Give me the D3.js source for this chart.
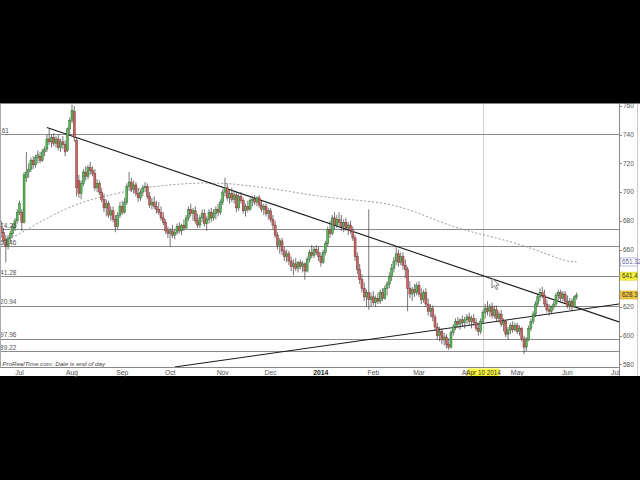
<!DOCTYPE html>
<html><head><meta charset="utf-8">
<script src="https://cdn.jsdelivr.net/npm/d3@7"></script>
<style>html,body{margin:0;padding:0;background:#000;}svg{display:block}</style>
</head><body>
<svg id="c" width="640" height="480"></svg>
<script>
// ---- DATA ----
const firstDay = "2013-06-19"; // first daily candle (weekdays only)
const opens = [676,672,667,662,668,671,675,680,686,686,679,710,714,716,722,719,724,725,722,728,730,737,735,738,734,737,731,735,733,729,744,750,756,736,708,699,706,714,711,717,715,713,703,706,700,695,689,692,684,687,681,676,684,690,686,693,704,707,702,705,699,696,700,703,704,697,691,693,690,688,686,682,679,673,671,673,670,672,676,673,677,675,682,688,685,687,680,677,682,685,678,681,686,682,685,688,686,693,700,703,696,699,695,698,689,697,694,687,690,688,694,695,693,696,691,688,690,685,687,681,677,670,663,666,659,655,657,652,648,650,647,651,648,650,645,653,658,656,660,658,655,651,658,664,674,671,682,677,681,679,676,679,675,677,673,668,655,646,639,633,627,630,625,627,623,626,624,630,626,633,636,641,647,652,657,651,655,649,646,633,629,632,630,635,629,625,630,622,617,619,613,606,600,603,597,599,594,592,602,606,610,608,611,609,611,613,610,612,609,605,603,610,616,619,617,620,614,618,612,615,608,610,601,604,607,604,607,603,605,598,592,597,605,610,615,622,627,630,628,622,618,617,620,622,628,630,626,629,624,621,624,620,627];
const highs = [680,675,670,670,673,678,682,688,694,688,714,728,720,724,725,726,729,728,730,732,740,744,740,741,739,740,737,739,736,745,752,761,760,738,712,708,716,718,719,721,718,716,709,708,703,699,695,694,690,690,684,686,693,694,696,706,714,710,708,707,703,702,705,707,706,700,696,697,694,693,690,686,681,676,675,677,674,678,679,678,681,684,690,692,689,690,685,684,688,688,683,688,689,688,690,692,695,702,710,706,702,703,701,700,699,700,696,692,694,696,697,698,697,698,694,692,692,689,689,684,680,672,668,668,662,660,659,655,653,654,652,653,652,651,655,660,663,662,663,662,658,660,666,676,680,684,686,684,686,684,681,682,679,680,676,670,658,650,643,637,632,688,630,631,628,630,632,633,635,638,644,650,655,662,660,658,658,653,648,638,634,636,637,638,633,632,633,626,622,621,615,609,606,605,602,601,598,604,608,612,613,612,614,613,615,616,614,615,612,609,612,618,622,624,622,623,621,621,617,618,612,611,606,609,610,609,609,607,606,600,599,607,612,617,624,629,633,634,632,625,622,621,624,630,632,632,631,631,628,626,626,628,630];
const lows = [668,664,651,660,665,669,673,678,684,673,678,707,710,714,716,717,720,720,721,725,728,733,731,732,731,729,728,730,725,728,740,748,735,697,696,695,704,708,709,712,711,701,700,698,693,686,683,682,680,679,672,674,682,684,685,691,701,700,699,697,693,694,697,700,695,689,688,688,685,684,680,677,671,668,662,668,667,670,671,670,673,674,680,683,680,678,675,675,679,676,673,678,679,680,681,683,684,691,697,694,692,693,692,686,687,692,685,683,686,687,690,691,690,689,686,684,683,681,679,674,668,660,657,656,652,651,649,645,642,645,644,646,644,639,644,651,654,654,656,652,648,650,656,662,668,670,674,675,676,673,672,673,670,671,666,652,643,636,630,624,620,618,620,621,620,622,622,624,625,628,633,638,644,649,648,649,646,640,617,626,624,627,628,627,622,623,620,614,613,610,603,597,596,594,593,591,590,591,600,604,605,604,606,605,608,607,605,607,603,600,601,608,612,614,613,612,612,610,609,606,603,599,597,601,602,603,601,600,596,587,589,596,603,608,613,620,624,626,620,616,614,615,618,620,625,624,624,622,619,618,617,619,625];
const closes = [672,666,662,668,671,676,680,686,692,679,712,714,716,722,719,724,726,722,728,730,737,735,738,734,737,731,735,733,728,744,750,757,738,703,699,706,714,711,717,715,713,703,706,700,695,689,692,684,687,681,676,684,690,686,693,704,707,702,705,699,696,700,703,704,697,691,693,690,688,686,682,679,673,671,673,670,672,676,673,677,675,682,688,685,687,680,677,682,685,678,681,686,682,685,688,686,693,700,703,696,699,695,698,689,697,694,687,690,688,694,695,693,696,691,688,690,685,687,681,677,670,663,666,659,655,657,652,648,650,647,651,648,650,645,653,658,656,660,658,655,651,658,664,674,671,682,677,681,679,676,679,675,677,673,668,655,646,639,633,627,630,625,627,623,626,624,630,626,633,636,641,647,652,657,651,655,649,646,633,629,632,630,635,629,625,630,622,617,619,613,606,600,603,597,599,594,592,602,606,610,608,611,609,611,613,610,612,609,605,603,610,616,619,617,620,614,618,612,615,608,610,601,604,607,604,607,603,605,598,592,597,605,610,615,622,627,630,628,622,618,617,620,622,628,630,626,629,624,621,624,620,627,628.3];
// 200-day moving average, read at sample dates
const maDates = ["2013-06-24","2013-07-01","2013-07-15","2013-07-29","2013-08-12","2013-08-26","2013-09-09","2013-09-23","2013-10-07","2013-10-21","2013-11-04","2013-11-18","2013-12-02","2013-12-16","2013-12-30","2014-01-13","2014-01-27","2014-02-10","2014-02-24","2014-03-10","2014-03-24","2014-04-07","2014-04-21","2014-05-05","2014-05-19","2014-06-02","2014-06-06"];
const maVals = [667,671,680,688,694,698,701.5,704,705.5,706.3,706,704.5,702.5,700,697.5,695.5,694,692,688,682,676,671.5,667.5,663,657.5,652,651.3];
const levels = [740.61, 674.25, 662.46, 641.28, 620.94, 597.96, 589.22];
const levelLabels = ["740.61","674.25","662.46","641.28","620.94","597.96","589.22"];
const yTicks = [760,740,720,700,680,660,620,600,580];
const yTickMarks = [760,740,720,700,680,660,640,620,600,580];
const monthNames = ["Jul","Aug","Sep","Oct","Nov","Dec","2014","Feb","Mar","Apr","May","Jun","Jul"];
const monthDates = ["2013-07-01","2013-08-01","2013-09-02","2013-10-01","2013-11-01","2013-12-02","2014-01-01","2014-02-03","2014-03-03","2014-04-01","2014-05-01","2014-06-02","2014-07-01"];
const downTrend = [["2013-07-17",745.0],["2014-06-06",619.6]];
const upTrend = [["2013-10-03",578.1],["2014-06-06",617.8]];
const crossDate = "2014-04-10", crossLabel = "Apr 10 2014";
const maLast = "651.32", levelTag = "641.4", lastTag = "628.3";

// ---- CHART ----
const svg = d3.select("#c");
svg.append("rect").attr("width",640).attr("height",480).attr("fill","#000");
svg.append("rect").attr("x",0).attr("y",103.5).attr("width",640).attr("height",272.5).attr("fill","#fff");
const P = {l:0, r:619, t:104, b:367.5};
const font = "'Liberation Sans', Arial, sans-serif";

const parse = d3.timeParse("%Y-%m-%d");
const dates = [];
for (let d = parse(firstDay); dates.length < closes.length + 40; d = d3.timeDay.offset(d,1)) {
  if (d.getDay() !== 0 && d.getDay() !== 6) dates.push(d);
}
const idxOf = s => { const t = +parse(s); return dates.findIndex(d => +d >= t); };

const x = d3.scaleLinear().domain([-0.54, 270.6]).range([P.l, P.r]);
const y = d3.scaleLinear().domain([580, 760]).range([364.3, 106.0]);

svg.append("clipPath").attr("id","pc").append("rect")
  .attr("x",P.l).attr("y",P.t).attr("width",P.r-P.l).attr("height",P.b-P.t);
const g = svg.append("g").attr("clip-path","url(#pc)");

// crosshair
const cx = Math.round(x(idxOf(crossDate)))+0.5;
g.append("line").attr("x1",cx).attr("x2",cx).attr("y1",P.t).attr("y2",P.b).attr("stroke","#d0d0d0");

// horizontal levels
g.selectAll(".lv").data(levels).enter().append("line")
  .attr("x1",P.l).attr("x2",P.r).attr("y1",d=>Math.round(y(d))+0.5).attr("y2",d=>Math.round(y(d))+0.5)
  .attr("stroke","#8a8a8a").attr("stroke-width",1);

// level labels on left (partly cut by the left edge, as in the source)
svg.selectAll(".ll").data(levels).enter().append("text")
  .attr("x",(d,i)=> i===0 ? -11 : -3.5).attr("y",d=>y(d)-1.2)
  .attr("font-family",font).attr("font-size",6.5).attr("fill","#555")
  .text((d,i)=>levelLabels[i]);

// moving average
const maLine = d3.line().x(d=>x(idxOf(d[0]))).y(d=>y(d[1])).curve(d3.curveMonotoneX);
g.append("path").datum(maDates.map((d,i)=>[d,maVals[i]])).attr("d",maLine)
  .attr("fill","none").attr("stroke","#9a9a9a").attr("stroke-width",1).attr("stroke-dasharray","2,2");

// trend lines (extended to the right edge)
function trend(pts){
  const i0 = idxOf(pts[0][0]), i1 = idxOf(pts[1][0]);
  const s = (pts[1][1]-pts[0][1])/(i1-i0);
  const iEnd = x.domain()[1];
  g.append("line").attr("x1",x(i0)).attr("y1",y(pts[0][1]))
    .attr("x2",x(iEnd)).attr("y2",y(pts[0][1]+s*(iEnd-i0)))
    .attr("stroke","#1a1a1a").attr("stroke-width",1.1);
}
trend(downTrend);
trend(upTrend);

// candles
const cw = 2.0;
const cd = g.append("g");
closes.forEach((c,i)=>{
  const o = opens[i], up = c >= o;
  const xc = x(i);
  cd.append("line").attr("x1",xc).attr("x2",xc).attr("y1",y(highs[i])).attr("y2",y(lows[i]))
    .attr("stroke","#3a3a3a").attr("stroke-width",0.7);
  cd.append("rect").attr("x",xc-cw/2).attr("width",cw)
    .attr("y",y(Math.max(o,c))).attr("height",Math.max(0.8,Math.abs(y(o)-y(c))))
    .attr("fill",up?"#5cb85c":"#c96464").attr("stroke",up?"#2e6b2e":"#7d3434").attr("stroke-width",0.5);
});

// cursor arrow
svg.append("path").attr("transform","translate(492,278)")
  .attr("d","M0,0 L0,10 L2.4,7.6 L4.3,11.5 L5.9,10.8 L4,7 L7.2,7 Z")
  .attr("fill","#fff").attr("stroke","#333").attr("stroke-width",0.6);

// frame
svg.append("line").attr("x1",P.l).attr("x2",P.r).attr("y1",P.b).attr("y2",P.b).attr("stroke","#888");
svg.append("line").attr("x1",P.r+0.5).attr("x2",P.r+0.5).attr("y1",P.t).attr("y2",376).attr("stroke","#888");
svg.append("line").attr("x1",0.5).attr("x2",0.5).attr("y1",P.t).attr("y2",P.b).attr("stroke","#aaa");
svg.append("line").attr("x1",637.5).attr("x2",637.5).attr("y1",P.t).attr("y2",376).attr("stroke","#ccc");

// right axis
const ya = svg.append("g");
yTickMarks.forEach(v=>{
  ya.append("line").attr("x1",P.r).attr("x2",P.r+3).attr("y1",Math.round(y(v))+0.5).attr("y2",Math.round(y(v))+0.5).attr("stroke","#888");
});
yTicks.forEach(v=>{
  ya.append("text").attr("x",P.r+4).attr("y",y(v)+2.3).attr("font-family",font).attr("font-size",6.5).attr("fill","#555").text(v);
});
function tag(val, text, fill, stroke, color){
  const yy = y(val);
  svg.append("rect").attr("x",620.5).attr("y",yy-4).attr("width",17).attr("height",8)
    .attr("fill",fill).attr("stroke",stroke).attr("stroke-width",0.6);
  svg.append("text").attr("x",622).attr("y",yy+2.3).attr("font-family",font).attr("font-size",6.3).attr("fill",color).text(text);
}
tag(maVals[maVals.length-1], maLast, "#fff", "#8a8fd0", "#5a5f9a");
tag(+levelTag, levelTag, "#f5f03c", "#d8d020", "#333");
tag(closes[closes.length-1], lastTag, "#f0c63c", "#d0a020", "#333");

// x axis labels
monthNames.forEach((m,i)=>{
  svg.append("text").attr("x",x(idxOf(monthDates[i]))).attr("y",375.2).attr("text-anchor","middle")
    .attr("font-family",font).attr("font-size",6.8).attr("font-weight",m==="2014"?"bold":"normal")
    .attr("fill",m==="2014"?"#222":"#555").text(m);
});
// crosshair date tag
svg.append("rect").attr("x",cx-16).attr("y",368.5).attr("width",32).attr("height",7.5).attr("fill","#f8f53a");
svg.append("text").attr("x",cx).attr("y",375).attr("text-anchor","middle")
  .attr("font-family",font).attr("font-size",6.3).attr("fill","#333").text(crossLabel);

// source note
svg.append("text").attr("x",-4).attr("y",366).attr("font-family",font).attr("font-size",6.2)
  .attr("font-style","italic").attr("fill","#444").text("© ProRealTime.com: Date is end of day");
</script>
</body></html>
